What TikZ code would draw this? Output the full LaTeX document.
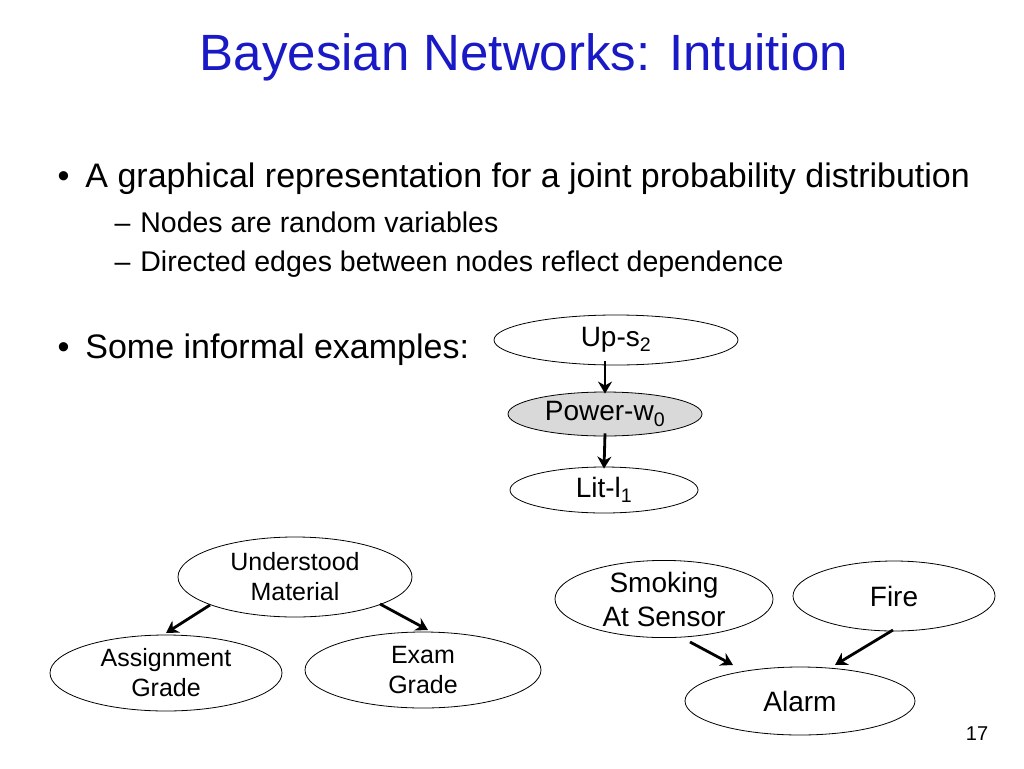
\documentclass[tikz,border=0pt]{standalone}
\usepackage{fontspec}
\setmainfont{Liberation Sans}
\usetikzlibrary{arrows.meta,shapes.geometric}
\begin{document}
\begin{tikzpicture}[x=1pt,y=-1pt,
  ell/.style={draw,ellipse,inner sep=0pt,line width=0.8pt,align=center,font=\fontsize{25}{30}\selectfont},
  arr/.style={line width=2.8pt,-{Stealth[length=12pt,width=14pt]}}]
\useasboundingbox (0,0) rectangle (1024,768);
\node[text=blue!75!black!90!white,font=\fontsize{51}{51}\selectfont] (title) at (524,57) {Bayesian Networks: Intuition};
\node[anchor=west,font=\fontsize{34}{34}\selectfont] (b1) at (54,179) {•\hspace{16pt}A graphical representation for a joint probability distribution};
\node[anchor=west,font=\fontsize{28.5}{28.5}\selectfont] (s1) at (111,222) {–\hspace{10pt}Nodes are random variables};
\node[anchor=west,font=\fontsize{28.5}{28.5}\selectfont] (s2) at (111,264) {–\hspace{10pt}Directed edges between nodes reflect dependence};
\node[anchor=west,font=\fontsize{34}{34}\selectfont] (b2) at (54,350) {•\hspace{16pt}Some informal examples:};
\node[ell,minimum width=244,minimum height=50,font=\fontsize{28}{28}\selectfont] (up) at (616,340) {Up-s\textsubscript{2}};
\node[ell,fill=black!15,minimum width=194,minimum height=44,font=\fontsize{28}{28}\selectfont] (pw) at (605,414) {Power-w\textsubscript{0}};
\node[ell,minimum width=188,minimum height=46,font=\fontsize{28}{28}\selectfont] (lit) at (604,490) {Lit-l\textsubscript{1}};
\node[ell,minimum width=234,minimum height=80] (um) at (295,577) {Understood\\Material};
\node[ell,minimum width=232,minimum height=76] (ag) at (166,673) {Assignment\\Grade};
\node[ell,minimum width=236,minimum height=76] (eg) at (423,670) {Exam\\Grade};
\node[ell,minimum width=218,minimum height=70,font=\fontsize{28}{34}\selectfont] (sm) at (664,599) {Smoking\\At Sensor};
\node[ell,minimum width=202,minimum height=70,font=\fontsize{28}{34}\selectfont] (fi) at (894,596) {Fire};
\node[ell,minimum width=230,minimum height=68,font=\fontsize{28}{34}\selectfont] (al) at (800,701) {Alarm};
\node[font=\fontsize{20}{20}\selectfont] (pg) at (977,734) {17};
\draw[arr] ([yshift=4pt]up.south -| pw.north) -- ([yshift=-2pt]pw.north);
\draw[arr] ([yshift=3pt]pw.south) -- ([yshift=-2pt]lit.north);
\draw[arr] (210,605) -- (166,633);
\draw[arr] (380,604) -- (428,630);
\draw[arr] (690,642) -- (733,665);
\draw[arr] (893,630) -- (835,665);
\end{tikzpicture}
\end{document}
